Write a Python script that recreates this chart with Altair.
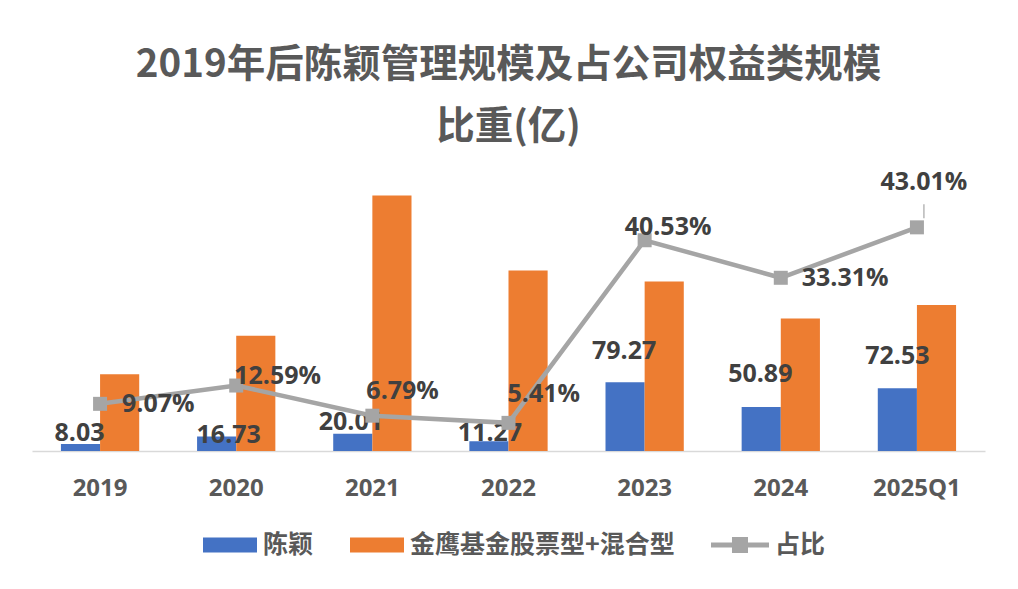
import altair as alt
import pandas as pd

# ---- data ----
categories = ["2019", "2020", "2021", "2022", "2023", "2024", "2025Q1"]
chen_ying = [8.03, 16.73, 20.01, 11.27, 79.27, 50.89, 72.53]
jinying_equity = [88.5, 132.9, 294.7, 208.3, 195.6, 152.8, 168.6]
share = [0.0907, 0.1259, 0.0679, 0.0541, 0.4053, 0.3331, 0.4301]
series_names = ["陈颖", "金鹰基金股票型+混合型"]
line_name = "占比"
title_lines = ["2019年后陈颖管理规模及占公司权益类规模", "比重(亿)"]

# ---- tables ----
bars_df = pd.DataFrame({
    "category": categories * 2,
    "series": [series_names[0]] * len(categories) + [series_names[1]] * len(categories),
    "value": chen_ying + jinying_equity,
})
chen_df = pd.DataFrame({"category": categories, "value": chen_ying})
line_df = pd.DataFrame({"category": categories, "share": share, "name": [line_name] * len(categories)})

# ---- styles ----
BLUE, ORANGE, GRAY = "#4472C4", "#ED7D31", "#A5A5A5"
NUM_FONT = "Open Sans, Noto Sans CJK SC"
CJK_FONT = "Noto Sans CJK SC"
LABEL_COLOR = "#404040"
TEXT_COLOR = "#595959"

# manual label nudges (dx, dy) like Excel's hand-moved data labels
blue_nudge = {"2019": (-1, -11), "2020": (12, -2), "2021": (-2, -12), "2022": (1, -8),
              "2023": (-1, -31), "2024": (-1, -33), "2025Q1": (0, -32)}
pct_nudge = {"2019": (22, 0), "2020": (-2, -10), "2021": (-6, -25), "2022": (-1, -29),
             "2023": (-20, -13), "2024": (21, 0)}

x_enc = alt.X("category:N", sort=categories,
              scale=alt.Scale(paddingInner=0.425, paddingOuter=0.2125),
              axis=alt.Axis(title=None, labelAngle=0, ticks=False, tickSize=0,
                            domainColor="#D9D9D9", domainWidth=1.5, grid=False,
                            labelFont=NUM_FONT, labelFontSize=24, labelFontWeight="bold",
                            labelColor=TEXT_COLOR, labelPadding=25))
x_plain = alt.X("category:N", sort=categories)

bar_rect = "M-1,-0.2778H1V0.2778H-1Z"
line_sym = ("M-1,-0.086H-0.276V-0.276H0.276V-0.086H1V0.086H0.276V0.276"
            "H-0.276V0.086H-1Z")

legend_common = dict(orient="none", direction="horizontal", title=None,
                     labelFont=CJK_FONT, labelFontSize=25, labelFontWeight="bold",
                     labelColor=TEXT_COLOR, labelOffset=6, labelLimit=500,
                     symbolStrokeWidth=0)

bars = alt.Chart(bars_df).mark_bar().encode(
    x=x_enc,
    xOffset=alt.XOffset("series:N", sort=series_names),
    y=alt.Y("value:Q", scale=alt.Scale(domain=[0, 300]), axis=None),
    color=alt.Color("series:N", sort=series_names,
                    scale=alt.Scale(domain=series_names, range=[BLUE, ORANGE]),
                    legend=alt.Legend(symbolType=bar_rect, symbolSize=2916,
                                      columnPadding=36, legendX=171, legendY=327,
                                      **legend_common)),
)

blue_labels = []
for cat in categories:
    dx, dy = blue_nudge[cat]
    blue_labels.append(
        alt.Chart(chen_df).transform_filter(alt.datum.category == cat)
        .mark_text(font=NUM_FONT, fontSize=25, fontWeight="bold", color=LABEL_COLOR,
                   baseline="middle", align="center", dx=-19.5 + dx, dy=dy)
        .encode(x=x_plain, y=alt.Y("value:Q"), text=alt.Text("value:Q", format=".2f"))
    )

bar_group = alt.layer(bars, *blue_labels)

line = alt.Chart(line_df).mark_line(color=GRAY, strokeWidth=4.5).encode(
    x=x_plain,
    y=alt.Y("share:Q", scale=alt.Scale(domain=[0, 0.5]), axis=None),
)
points = alt.Chart(line_df).mark_square(size=196, opacity=1).encode(
    x=x_plain,
    y=alt.Y("share:Q"),
    color=alt.Color("name:N", scale=alt.Scale(domain=[line_name], range=[GRAY]),
                    legend=alt.Legend(symbolType=line_sym, symbolSize=3364,
                                      legendX=679, legendY=325, **legend_common)),
)

pct_labels = []
for cat, (dx, dy) in pct_nudge.items():
    pct_labels.append(
        alt.Chart(line_df).transform_filter(alt.datum.category == cat)
        .mark_text(font=NUM_FONT, fontSize=25, fontWeight="bold", color=LABEL_COLOR,
                   baseline="middle", align="left", dx=dx, dy=dy)
        .encode(x=x_plain, y=alt.Y("share:Q"), text=alt.Text("share:Q", format=".2%"))
    )
last_label = (
    alt.Chart(line_df).transform_filter(alt.datum.category == "2025Q1")
    .mark_text(font=NUM_FONT, fontSize=25, fontWeight="bold", color=LABEL_COLOR,
               baseline="middle", align="center", dx=7, dy=-45)
    .encode(x=x_plain, y=alt.Y("share:Q"), text=alt.Text("share:Q", format=".2%"))
)
leader = (
    alt.Chart(line_df).transform_filter(alt.datum.category == "2025Q1")
    .mark_rule(color=GRAY, strokeWidth=1.2, xOffset=7, x2Offset=7, yOffset=-9, y2Offset=-23)
    .encode(x=x_plain, y=alt.Y("share:Q"), y2=alt.Y2("share"))
)

line_group = alt.layer(line, points, *pct_labels, last_label, leader)

chart = (
    alt.layer(bar_group, line_group)
    .resolve_scale(y="independent", color="independent")
    .properties(
        width=953, height=260,
        background="white",
        padding={"left": 24, "top": 183, "right": 25, "bottom": 120},
        autosize=alt.AutoSizeParams(type="none"),
        title=alt.TitleParams(text=title_lines, font=CJK_FONT, fontSize=38.5,
                              fontWeight="bold", color=TEXT_COLOR, anchor="middle",
                              lineHeight=62, offset=23),
    )
    .configure_view(stroke=None, strokeWidth=0)
)

chart.save("out.html", embed_options={"renderer": "svg", "actions": False})
